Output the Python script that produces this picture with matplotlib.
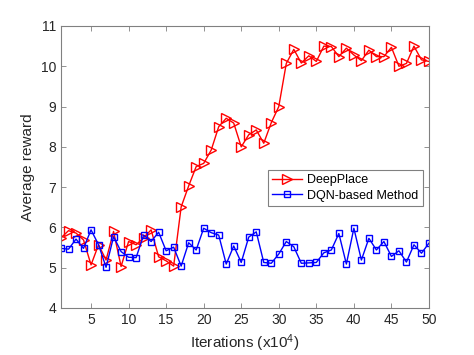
import matplotlib
matplotlib.use("Agg")
import matplotlib.pyplot as plt

iterations = list(range(1, 51))
deepplace = [5.74, 5.92, 5.86, 5.69, 5.07, 5.57, 5.19, 5.90, 5.03, 5.65,
             5.57, 5.74, 5.94, 5.27, 5.17, 5.04, 6.51, 7.03, 7.51, 7.59,
             7.92, 8.50, 8.71, 8.59, 8.00, 8.30, 8.42, 8.09, 8.60, 9.00,
             10.07, 10.42, 10.08, 10.26, 10.12, 10.50, 10.49, 10.24, 10.45, 10.28,
             10.14, 10.40, 10.24, 10.24, 10.47, 10.00, 10.07, 10.50, 10.16, 10.12]
dqn = [5.48, 5.46, 5.71, 5.48, 5.94, 5.57, 5.01, 5.77, 5.40, 5.26,
       5.25, 5.81, 5.65, 5.88, 5.42, 5.51, 5.04, 5.62, 5.44, 5.98,
       5.87, 5.81, 5.09, 5.54, 5.13, 5.76, 5.89, 5.13, 5.11, 5.34,
       5.65, 5.52, 5.11, 5.12, 5.13, 5.37, 5.44, 5.85, 5.09, 5.98,
       5.19, 5.73, 5.44, 5.65, 5.28, 5.42, 5.14, 5.57, 5.36, 5.61]
xticks = [5, 10, 15, 20, 25, 30, 35, 40, 45, 50]
yticks = [4, 5, 6, 7, 8, 9, 10, 11]

plt.rcParams['font.family'] = ['Liberation Sans', 'DejaVu Sans']
plt.rcParams['mathtext.default'] = 'regular'

fig = plt.figure(figsize=(4.74, 3.55), dpi=100)
ax = fig.add_axes([0.1287, 0.1324, 0.905 - 0.1287, 0.9268 - 0.1324])

ax.plot(iterations, deepplace, color='#ff0000', lw=1.0, marker='>', markersize=7.5,
        markerfacecolor='none', markeredgecolor='#ff0000', markeredgewidth=1.0,
        label='DeepPlace')
ax.plot(iterations, dqn, color='#0000ff', lw=1.0, marker='s', markersize=5,
        markerfacecolor='none', markeredgecolor='#0000ff', markeredgewidth=1.0,
        label='DQN-based Method')

ax.set_xlim(1, 50)
ax.set_ylim(4, 11)
ax.set_xticks(xticks)
ax.set_yticks(yticks)
ax.tick_params(direction='in', top=True, right=True, length=3.5, width=0.6,
               colors='#808080', labelcolor='#262626', labelsize=10)
for s in ax.spines.values():
    s.set_color('#808080')
    s.set_linewidth(0.8)

ax.set_xlabel('Iterations (x10$^{4}$)', fontsize=11, color='#262626')
ax.set_ylabel('Average reward', fontsize=11, color='#262626')

leg = ax.legend(loc='upper right', bbox_to_anchor=(0.984, 0.489), fontsize=9,
                fancybox=False, framealpha=1, edgecolor='#808080',
                handlelength=2.4, borderpad=0.35, labelspacing=0.25,
                handletextpad=0.4, borderaxespad=0)
leg.get_frame().set_linewidth(0.8)

fig.savefig('out.png', dpi=100)
